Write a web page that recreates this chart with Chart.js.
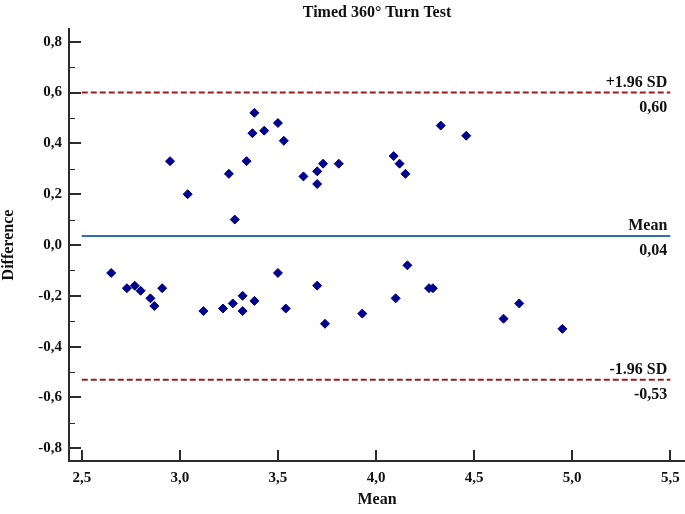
<!DOCTYPE html>
<html>
<head>
<meta charset="utf-8">
<title>Timed 360° Turn Test</title>
<script src="https://cdn.jsdelivr.net/npm/chart.js@4.4.1/dist/chart.umd.min.js"></script>
<style>
    html, body { margin: 0; padding: 0; background: #fff; }
    #wrap { width: 685px; height: 514px; }
</style>
</head>
<body>
<div id="wrap"><canvas id="baChart"></canvas></div>
<script>
// Valores (media de los dos métodos vs. diferencia)
const meanValues = [
    2.95, 3.04, 3.25, 3.28, 3.34, 3.37, 3.38, 3.43, 3.50, 3.53,
    3.63, 3.70, 3.70, 3.73, 3.81, 4.09, 4.12, 4.15, 4.33, 4.46,
    2.65, 2.73, 2.77, 2.80, 2.85, 2.87, 2.91, 3.12, 3.22, 3.27,
    3.32, 3.32, 3.38, 3.50, 3.54, 3.70, 3.74, 3.93, 4.10, 4.16,
    4.27, 4.29, 4.65, 4.73, 4.95
];
const diffValues = [
    0.33, 0.20, 0.28, 0.10, 0.33, 0.44, 0.52, 0.45, 0.48, 0.41,
    0.27, 0.24, 0.29, 0.32, 0.32, 0.35, 0.32, 0.28, 0.47, 0.43,
    -0.11, -0.17, -0.16, -0.18, -0.21, -0.24, -0.17, -0.26, -0.25, -0.23,
    -0.20, -0.26, -0.22, -0.11, -0.25, -0.16, -0.31, -0.27, -0.21, -0.08,
    -0.17, -0.17, -0.29, -0.23, -0.33
];

// Líneas de referencia: +1.96 SD, media, -1.96 SD
const limitNames = ['+1.96 SD', 'Mean', '-1.96 SD'];
const limitValues = [0.60, 0.035, -0.53];

// Marcas de los ejes
const xTickValues = [2.5, 3.0, 3.5, 4.0, 4.5, 5.0, 5.5];
const yTickValues = [-0.8, -0.6, -0.4, -0.2, 0.0, 0.2, 0.4, 0.6, 0.8];

const FONT = '"Liberation Serif", "Times New Roman", serif';
const AXIS_COLOR = '#2b2b2b';
const TEXT_COLOR = '#111';

// Formato con coma decimal
const fmt = (v, d) => (Math.round(v * Math.pow(10, d)) / Math.pow(10, d)).toFixed(d).replace('.', ',');

const points = meanValues.map((m, i) => ({ x: m, y: diffValues[i] }));
const lineStyles = [
    { color: '#9b1c1c', dash: [6, 3] },
    { color: '#2f6fad', dash: [] },
    { color: '#9b1c1c', dash: [6, 3] }
];
const limitDatasets = limitValues.map((v, i) => ({
    type: 'line',
    data: [{ x: xTickValues[0], y: v }, { x: xTickValues[xTickValues.length - 1], y: v }],
    borderColor: lineStyles[i].color,
    borderDash: lineStyles[i].dash,
    borderWidth: 2,
    pointRadius: 0,
    fill: false
}));

// Sin relleno extra para etiquetas en los bordes
const noEdgePadding = (scale) => {
    scale.paddingLeft = 0;
    scale.paddingRight = 0;
    scale.paddingTop = 0;
    scale.paddingBottom = 0;
};

// Marcas interiores de los ejes y textos de las líneas
const decorPlugin = {
    id: 'decor',
    afterDraw(chart) {
        const { ctx, chartArea, scales: { x, y } } = chart;
        ctx.save();
        ctx.strokeStyle = AXIS_COLOR;
        ctx.lineWidth = 2;
        yTickValues.forEach(v => {
            const py = Math.round(y.getPixelForValue(v));
            ctx.beginPath();
            ctx.moveTo(chartArea.left, py);
            ctx.lineTo(chartArea.left + 12, py);
            ctx.stroke();
        });
        ctx.lineWidth = 1;
        for (let i = 0; i < yTickValues.length - 1; i++) {
            const py = Math.round(y.getPixelForValue((yTickValues[i] + yTickValues[i + 1]) / 2)) + 0.5;
            ctx.beginPath();
            ctx.moveTo(chartArea.left, py);
            ctx.lineTo(chartArea.left + 6, py);
            ctx.stroke();
        }
        ctx.lineWidth = 2;
        xTickValues.forEach(v => {
            const px = Math.round(x.getPixelForValue(v));
            ctx.beginPath();
            ctx.moveTo(px, chartArea.bottom);
            ctx.lineTo(px, chartArea.bottom - 11);
            ctx.stroke();
        });

        ctx.fillStyle = TEXT_COLOR;
        ctx.font = 'bold 16px ' + FONT;
        ctx.textAlign = 'right';
        const right = x.getPixelForValue(xTickValues[xTickValues.length - 1]) - 3;
        limitValues.forEach((v, i) => {
            const py = y.getPixelForValue(v);
            ctx.textBaseline = 'alphabetic';
            ctx.fillText(limitNames[i], right, py - 6);
            ctx.textBaseline = 'middle';
            ctx.fillText(fmt(v, 2), right, py + 15);
        });
        ctx.restore();
    }
};

new Chart(document.getElementById('baChart'), {
    type: 'scatter',
    data: {
        datasets: [
            {
                data: points,
                pointStyle: 'rectRot',
                pointRadius: 4.5,
                backgroundColor: '#00008b',
                borderColor: '#00008b',
                borderWidth: 1
            },
            ...limitDatasets
        ]
    },
    options: {
        responsive: true,
        maintainAspectRatio: false,
        animation: false,
        layout: { autoPadding: false, padding: { top: 0, right: 0, bottom: 0, left: 0 } },
        plugins: {
            legend: { display: false },
            tooltip: { enabled: false },
            title: {
                display: true,
                text: 'Timed 360° Turn Test',
                fullSize: false,
                color: TEXT_COLOR,
                font: { family: FONT, size: 16, weight: 'bold', lineHeight: 1 },
                padding: { top: 5, bottom: 8 }
            }
        },
        scales: {
            x: {
                type: 'linear',
                min: 2.435,
                max: 5.575,
                afterBuildTicks: (scale) => { scale.ticks = xTickValues.map(v => ({ value: v })); },
                afterFit: (scale) => { scale.height = 53; noEdgePadding(scale); },
                grid: { display: false, drawTicks: false },
                border: { display: true, color: AXIS_COLOR, width: 2 },
                ticks: {
                    padding: 8,
                    color: TEXT_COLOR,
                    font: { family: FONT, size: 15, weight: 'bold' },
                    callback: (v) => fmt(v, 1)
                },
                title: {
                    display: true,
                    text: 'Mean',
                    color: TEXT_COLOR,
                    font: { family: FONT, size: 16, weight: 'bold', lineHeight: 1.2 },
                    padding: { top: 0, bottom: 5 }
                }
            },
            y: {
                min: -0.85,
                max: 0.85,
                afterBuildTicks: (scale) => { scale.ticks = yTickValues.map(v => ({ value: v })); },
                afterFit: (scale) => { scale.width = 69; noEdgePadding(scale); },
                grid: { display: false, drawTicks: false },
                border: { display: true, color: AXIS_COLOR, width: 2 },
                ticks: {
                    padding: 7,
                    color: TEXT_COLOR,
                    font: { family: FONT, size: 15, weight: 'bold' },
                    callback: (v) => fmt(v, 1)
                },
                title: {
                    display: true,
                    text: 'Difference',
                    color: TEXT_COLOR,
                    font: { family: FONT, size: 16, weight: 'bold', lineHeight: 1 },
                    padding: { top: 1, bottom: 0 }
                }
            }
        }
    },
    plugins: [decorPlugin]
});
</script>
</body>
</html>
